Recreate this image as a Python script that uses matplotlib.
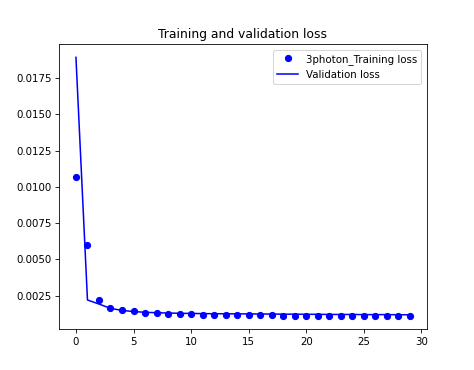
import matplotlib
matplotlib.use('Agg')
import matplotlib.pyplot as plt

epochs = list(range(30))
train_loss = [0.01068, 0.00602, 0.00222, 0.00168, 0.00152, 0.00142, 0.00132, 0.00127,
              0.00126, 0.00121, 0.00121, 0.00115, 0.00115, 0.00116, 0.00116, 0.00117,
              0.00116, 0.00116, 0.00110, 0.00110, 0.00110, 0.00111, 0.00109, 0.00110,
              0.00109, 0.00110, 0.00109, 0.00110, 0.00108, 0.00107]
val_loss = [0.01893, 0.00220, 0.00192, 0.00162, 0.00148, 0.00140, 0.00135, 0.00132,
            0.00130, 0.00128, 0.00127, 0.00126, 0.00125, 0.00125, 0.00124, 0.00124,
            0.00123, 0.00123, 0.00122, 0.00122, 0.00121, 0.00121, 0.00120, 0.00120,
            0.00120, 0.00119, 0.00119, 0.00119, 0.00118, 0.00118]

dpi = 74.0625
fig = plt.figure(figsize=(474 / dpi, 370 / dpi), dpi=dpi)
plt.plot(epochs, train_loss, 'bo', label='3photon_Training loss')
plt.plot(epochs, val_loss, 'b', label='Validation loss')
plt.title('Training and validation loss')
plt.legend()
plt.savefig('out.png', dpi=dpi)
